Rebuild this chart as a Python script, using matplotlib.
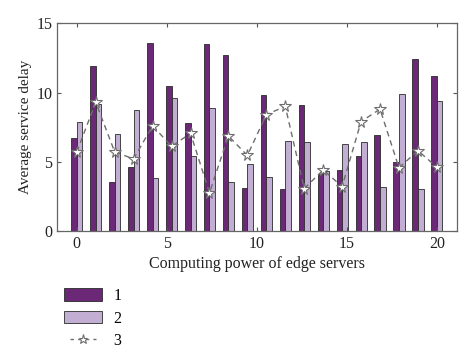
import numpy as np
import matplotlib
matplotlib.use("Agg")
import matplotlib.pyplot as plt
from matplotlib.legend_handler import HandlerLine2D
from matplotlib.lines import Line2D

plt.rcParams['font.family'] = ['Liberation Serif', 'DejaVu Serif']

n_groups = 20
series1 = [6.7, 11.9, 3.5, 4.6, 13.6, 10.5, 7.8, 13.5, 12.7, 3.1,
           9.8, 3.0, 9.1, 4.1, 4.4, 5.4, 6.9, 5.0, 12.4, 11.2]
series2 = [7.9, 9.2, 7.0, 8.7, 3.8, 9.6, 5.4, 8.9, 3.5, 4.8,
           3.9, 6.5, 6.4, 4.3, 6.3, 6.4, 3.2, 9.9, 3.0, 9.4]
series3 = [5.7, 9.3, 5.7, 5.2, 7.6, 6.1, 7.05, 2.75, 6.85, 5.45,
           8.4, 9.0, 3.05, 4.4, 3.2, 7.9, 8.8, 4.55, 5.8, 4.6]
labels = ['1', '2', '3']
xticks = [0, 5, 10, 15, 20]
yticks = [0, 5, 10, 15]

x = np.linspace(0, 20, n_groups)

fig = plt.figure(figsize=(4.74, 3.6), dpi=100)
ax = fig.add_axes([0.121, 0.359, 0.8425, 0.576])

w = 0.31
dark = '#6b2876'
light = '#c3aed3'
gray = '#6e6e6e'
b1 = ax.bar(x - w/2, series1, width=w, color=dark, edgecolor='#2a2a2a', linewidth=0.6, label=labels[0])
b2 = ax.bar(x + w/2, series2, width=w, color=light, edgecolor='#2a2a2a', linewidth=0.6, label=labels[1])
ax.plot(x, series3, linestyle=(0, (4, 3)), color=gray, linewidth=1.0,
        marker='*', markersize=8.5, markerfacecolor='white', markeredgecolor=gray,
        markeredgewidth=0.8, label=labels[2])

ax.set_xlim(-1.08, 21.1)
ax.set_ylim(0, 15)
ax.set_xticks(xticks)
ax.set_yticks(yticks)
ax.tick_params(direction='in', top=True, right=True, length=3, width=0.8,
               colors='#555555', labelcolor='#222222', labelsize=11.5)
for s in ax.spines.values():
    s.set_color('#666666')
    s.set_linewidth(0.9)
ax.set_xlabel('Computing power of edge servers', fontsize=11.5, color='#222222', labelpad=3)
ax.set_ylabel('Average service delay', fontsize=11, color='#222222', labelpad=3)


class ShortLineHandler(HandlerLine2D):
    def get_xdata(self, legend, xdescent, ydescent, width, height, fontsize):
        c = width / 2 - xdescent
        half = width * 0.34
        return np.array([c - half, c + half]), np.array([c])


proxy3 = Line2D([], [], linestyle=(0, (2.5, 3)), color=gray, linewidth=1.0,
                marker='*', markersize=6.5, markerfacecolor='white',
                markeredgecolor=gray, markeredgewidth=0.8)

fig.legend(handles=[b1, b2, proxy3], labels=labels, loc='upper left',
           bbox_to_anchor=(0.105, 0.24), frameon=False, fontsize=11.5,
           handlelength=2.4, handleheight=0.85, labelspacing=0.41, handletextpad=0.7,
           handler_map={proxy3: ShortLineHandler()})

fig.savefig('out.png', dpi=100)
